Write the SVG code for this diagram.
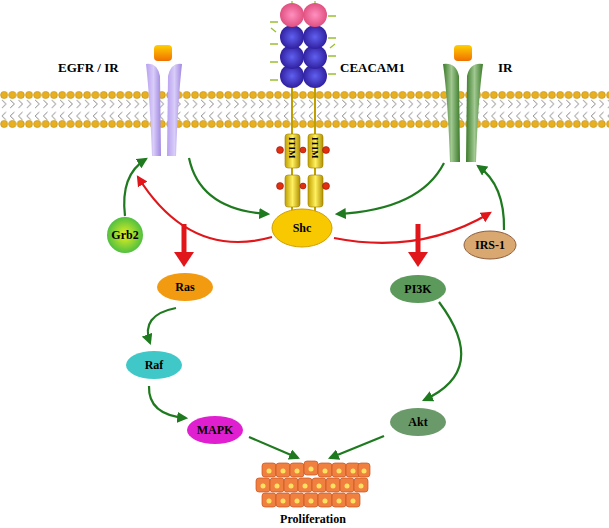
<svg xmlns="http://www.w3.org/2000/svg" width="609" height="528" viewBox="0 0 609 528">
<style>
text{font-family:"Liberation Serif",serif;font-weight:bold;fill:#000}
.n{font-size:12px;text-anchor:middle}
.g{fill:none;stroke:#1f7a1f;stroke-width:2.2}
.r{fill:none;stroke:#e0161b;stroke-width:2.2}
.cell{fill:#f08040;stroke:#c85020;stroke-width:.7}
</style>
<defs>
<marker id="ag" viewBox="0 0 10 10" refX="8" refY="5" markerWidth="5" markerHeight="5" orient="auto"><path d="M0,0L10,5L0,10z" fill="#1f7a1f"/></marker>
<marker id="ar" viewBox="0 0 10 10" refX="8" refY="5" markerWidth="5" markerHeight="5" orient="auto"><path d="M0,0L10,5L0,10z" fill="#e0161b"/></marker>
<pattern id="lip" width="8.3" height="38" patternUnits="userSpaceOnUse" y="91">
<path d="M2,9L6,13L2,17M6,21L2,25L6,29" fill="none" stroke="#555" stroke-width=".7"/>
<circle cx="4.15" cy="4" r="3.6" fill="#e8b020" stroke="#b08000" stroke-width=".5"/>
<circle cx="4.15" cy="33" r="3.6" fill="#e8b020" stroke="#b08000" stroke-width=".5"/>
</pattern>
<linearGradient id="pur" x1="0" x2="1"><stop offset="0" stop-color="#b8a0f0"/><stop offset=".5" stop-color="#d8ccf8"/><stop offset="1" stop-color="#a088e0"/></linearGradient>
<linearGradient id="grn" x1="0" x2="1"><stop offset="0" stop-color="#3c7a2a"/><stop offset=".5" stop-color="#a0c890"/><stop offset="1" stop-color="#3c7a2a"/></linearGradient>
<linearGradient id="lig" x1="0" y1="0" x2="0" y2="1"><stop offset="0" stop-color="#ffd000"/><stop offset="1" stop-color="#f07000"/></linearGradient>
<radialGradient id="blue"><stop offset="0" stop-color="#6060f0"/><stop offset="1" stop-color="#3020a0"/></radialGradient>
<radialGradient id="pink"><stop offset="0" stop-color="#ff90c0"/><stop offset="1" stop-color="#e05080"/></radialGradient>
<linearGradient id="cyl" x1="0" x2="1"><stop offset="0" stop-color="#c0a000"/><stop offset=".5" stop-color="#fff060"/><stop offset="1" stop-color="#b09000"/></linearGradient>
<radialGradient id="grb"><stop offset="0" stop-color="#e8f020"/><stop offset="1" stop-color="#50c040"/></radialGradient>
</defs>
<g id="membrane"><rect x="0" y="91" width="609" height="38" fill="url(#lip)"/></g>

<g id="egfr">
<path d="M146,64 Q157,62 160,76 L161,156 L152,156 Q150,100 146,64z" fill="url(#pur)"/>
<path d="M182,64 Q171,62 168,76 L167,156 L176,156 Q178,100 182,64z" fill="url(#pur)"/>
<rect x="154" y="45" width="18" height="16" rx="4" fill="url(#lig)"/>
<text x="58" y="72" font-size="13">EGFR / IR</text>
</g>
<g id="ir">
<path d="M443,64 Q456,62 459,76 L460,162 L450,162 Q448,100 443,64z" fill="url(#grn)"/>
<path d="M483,64 Q470,62 467,76 L466,162 L476,162 Q478,100 483,64z" fill="url(#grn)"/>
<rect x="454" y="45" width="18" height="16" rx="4" fill="url(#lig)"/>
<text x="498" y="72" font-size="13">IR</text>
</g>
<g id="ceacam1">
<g stroke="#9ac030" stroke-width="1.3">
<path d="M270,22h8M270,44h8M270,62h8M270,80h8M328,16h8M328,38h8M328,56h8M328,74h8M292,1v3M315,1v3M276,32l-5,-4M330,48l5,-4"/>
</g>
<circle cx="292" cy="76" r="12" fill="url(#blue)"/><circle cx="315" cy="76" r="12" fill="url(#blue)"/>
<circle cx="292" cy="57" r="12" fill="url(#blue)"/><circle cx="315" cy="57" r="12" fill="url(#blue)"/>
<circle cx="292" cy="37" r="12" fill="url(#blue)"/><circle cx="315" cy="37" r="12" fill="url(#blue)"/>
<circle cx="292" cy="15" r="12" fill="url(#pink)"/><circle cx="315" cy="15" r="12" fill="url(#pink)"/>
<path d="M292,88V212M315,88V212" stroke="#c0a000" stroke-width="2"/>
<rect x="285" y="134" width="15" height="34" rx="3" fill="url(#cyl)" stroke="#a08000" stroke-width=".6"/>
<rect x="308" y="134" width="15" height="34" rx="3" fill="url(#cyl)" stroke="#a08000" stroke-width=".6"/>
<rect x="285" y="175" width="15" height="32" rx="3" fill="url(#cyl)" stroke="#a08000" stroke-width=".6"/>
<rect x="308" y="175" width="15" height="32" rx="3" fill="url(#cyl)" stroke="#a08000" stroke-width=".6"/>
<text font-size="9" transform="translate(289,137) rotate(90)">ITIM</text>
<text font-size="9" transform="translate(312,137) rotate(90)">ITIM</text>
<g fill="#e03010" stroke="#800" stroke-width=".5">
<circle cx="280" cy="150" r="3.5"/><circle cx="326" cy="150" r="3.5"/><circle cx="280" cy="186" r="3.5"/><circle cx="326" cy="186" r="3.5"/>
<circle cx="303" cy="150" r="3"/><circle cx="303" cy="186" r="3"/>
</g>
<text x="340" y="72" font-size="13">CEACAM1</text>
</g>

<g id="connectors">
<path class="g" d="M125,216 Q120,175 146,159" marker-end="url(#ag)"/>
<path class="r" d="M272,237 Q190,260 138,177" marker-end="url(#ar)"/>
<path class="g" d="M189,158 Q200,210 268,214" marker-end="url(#ag)"/>
<path class="g" d="M444,163 Q420,210 337,214" marker-end="url(#ag)"/>
<path class="r" d="M334,238 Q420,255 490,213" marker-end="url(#ar)"/>
<path class="g" d="M504,230 Q505,185 478,166" marker-end="url(#ag)"/>
<path d="M184,224V254" stroke="#e0161b" stroke-width="5"/><path d="M174,252L184,267L194,252z" fill="#e0161b"/>
<path d="M418,224V254" stroke="#e0161b" stroke-width="5"/><path d="M408,252L418,267L428,252z" fill="#e0161b"/>
<path class="g" d="M176,308 Q140,315 150,343" marker-end="url(#ag)"/>
<path class="g" d="M149,386 Q148,415 186,418" marker-end="url(#ag)"/>
<path class="g" d="M439,302 Q490,370 424,400" marker-end="url(#ag)"/>
<path class="g" d="M249,437L298,458" marker-end="url(#ag)"/>
<path class="g" d="M384,436L330,458" marker-end="url(#ag)"/>
</g>

<g id="shc"><ellipse cx="302" cy="228" rx="30" ry="19" fill="#f8c800" stroke="#d0a000"/><text class="n" x="302" y="232">Shc</text></g>
<g id="grb2"><circle cx="125" cy="235" r="18" fill="url(#grb)"/><text class="n" x="125" y="239">Grb2</text></g>
<g id="irs1"><ellipse cx="490" cy="245" rx="26" ry="14" fill="#d8a870" stroke="#906040"/><text class="n" x="490" y="249">IRS-1</text></g>
<g id="ras"><ellipse cx="185" cy="287" rx="28" ry="14" fill="#f29a10"/><text class="n" x="185" y="291">Ras</text></g>
<g id="pi3k"><ellipse cx="418" cy="289" rx="28" ry="14" fill="#5c9a5c"/><text class="n" x="418" y="293">PI3K</text></g>
<g id="raf"><ellipse cx="154" cy="365" rx="28" ry="14" fill="#40c8c8"/><text class="n" x="154" y="369">Raf</text></g>
<g id="mapk"><ellipse cx="215" cy="430" rx="28" ry="14" fill="#e020d0"/><text class="n" x="215" y="434">MAPK</text></g>
<g id="akt"><ellipse cx="418" cy="422" rx="28" ry="14" fill="#6a9a6a"/><text class="n" x="418" y="426">Akt</text></g>

<g id="proliferation">
<g class="cell">
<rect x="262" y="463" width="14" height="14" rx="3"/><rect x="276" y="463" width="14" height="14" rx="3"/><rect x="290" y="463" width="14" height="14" rx="3"/><rect x="304" y="461" width="14" height="14" rx="3"/><rect x="318" y="463" width="14" height="14" rx="3"/><rect x="332" y="463" width="14" height="14" rx="3"/><rect x="346" y="463" width="14" height="14" rx="3"/><rect x="358" y="463" width="12" height="14" rx="3"/>
<rect x="256" y="478" width="14" height="14" rx="3"/><rect x="270" y="478" width="14" height="14" rx="3"/><rect x="284" y="478" width="14" height="14" rx="3"/><rect x="298" y="478" width="14" height="14" rx="3"/><rect x="312" y="478" width="14" height="14" rx="3"/><rect x="326" y="478" width="14" height="14" rx="3"/><rect x="340" y="478" width="14" height="14" rx="3"/><rect x="354" y="478" width="14" height="14" rx="3"/>
<rect x="262" y="493" width="14" height="14" rx="3"/><rect x="276" y="493" width="14" height="14" rx="3"/><rect x="290" y="493" width="14" height="14" rx="3"/><rect x="304" y="493" width="14" height="14" rx="3"/><rect x="318" y="493" width="14" height="14" rx="3"/><rect x="332" y="493" width="14" height="14" rx="3"/><rect x="346" y="493" width="14" height="14" rx="3"/>
</g>
<g fill="#ffe060">
<circle cx="269" cy="471" r="2.5"/><circle cx="283" cy="471" r="2.5"/><circle cx="297" cy="471" r="2.5"/><circle cx="311" cy="469" r="2.5"/><circle cx="325" cy="471" r="2.5"/><circle cx="339" cy="471" r="2.5"/><circle cx="353" cy="471" r="2.5"/><circle cx="364" cy="471" r="2.5"/>
<circle cx="263" cy="486" r="2.5"/><circle cx="277" cy="486" r="2.5"/><circle cx="291" cy="486" r="2.5"/><circle cx="305" cy="486" r="2.5"/><circle cx="319" cy="486" r="2.5"/><circle cx="333" cy="486" r="2.5"/><circle cx="347" cy="486" r="2.5"/><circle cx="361" cy="486" r="2.5"/>
<circle cx="269" cy="501" r="2.5"/><circle cx="283" cy="501" r="2.5"/><circle cx="297" cy="501" r="2.5"/><circle cx="311" cy="501" r="2.5"/><circle cx="325" cy="501" r="2.5"/><circle cx="339" cy="501" r="2.5"/><circle cx="353" cy="501" r="2.5"/>
</g>
<text x="313" y="523" font-size="12" text-anchor="middle">Proliferation</text>
</g>
</svg>
